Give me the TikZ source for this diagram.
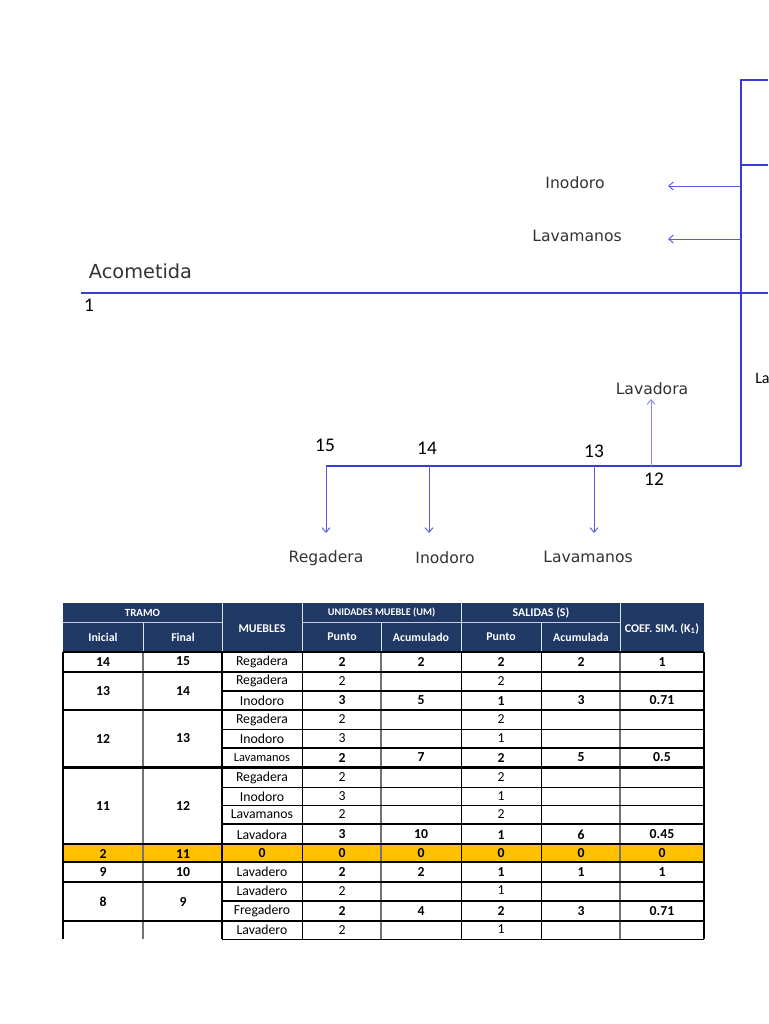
\documentclass[tikz,border=0pt]{standalone}
\usepackage{fontspec}
\usepackage{tikz}
\usetikzlibrary{arrows.meta}
\setmainfont{Carlito}
\newfontfamily\planofont{DejaVu Sans}
\definecolor{pipeblue}{HTML}{3A3ADC}
\definecolor{headnavy}{HTML}{1F3864}
\definecolor{rowgold}{HTML}{FFC000}
\tikzset{
    pipe/.style={draw=pipeblue, line width=1.1pt},
    branch/.style={draw=pipeblue!85, line width=0.7pt, ->},
    mueblelabel/.style={font=\planofont\fontsize{11.7}{14}\selectfont, text=black!80, inner sep=0pt},
    nodenum/.style={font=\fontsize{14.5}{17}\selectfont, inner sep=0pt},
    headcell/.style={font=\bfseries\fontsize{8.9}{10}\selectfont, text=white, inner sep=0pt},
    cell/.style={font=\fontsize{10.3}{12}\selectfont, inner sep=0pt, yshift=-0.4pt},
    boldcell/.style={font=\bfseries\fontsize{10.3}{12}\selectfont, inner sep=0pt, yshift=-0.4pt},
}
\begin{document}
\begin{tikzpicture}[x=0.75pt, y=-0.75pt, >={Straight Barb[length=3.5pt,width=6pt]}]
    \useasboundingbox (0,0) rectangle (768,1024);
    % network
    \coordinate (top) at (741,80);
    \coordinate (topend) at (768,80);
    \coordinate (mid) at (741,165);
    \coordinate (midend) at (768,165);
    \coordinate (start) at (81,293);
    \coordinate (mainend) at (768,293);
    \coordinate (corner) at (741,466);
    \coordinate (j15) at (326,466);
    \coordinate (j14) at (429,466);
    \coordinate (j13) at (594,466);
    \coordinate (j12) at (651,466);
    \coordinate (jino) at (741,186);
    \coordinate (jlav) at (741,239);
    \coordinate (endino) at (668,186);
    \coordinate (endlav) at (668,239);
    \coordinate (end15) at (326,533);
    \coordinate (end14) at (429,533);
    \coordinate (end13) at (594,533);
    \coordinate (end12) at (651,399);
    \draw[pipe] (start) -- (mainend);
    \draw[pipe, line width=0.85pt] (topend) -- (top) -- (corner);
    \draw[pipe] (corner) -- (j15);
    \draw[pipe, line width=0.85pt] (mid) -- (midend);
    \foreach \a/\b in {jino/endino, jlav/endlav, j15/end15, j14/end14, j13/end13}
        \draw[branch] (\a) -- (\b);
    \draw[branch, draw=pipeblue!60] (j12) -- (end12);
    \node[mueblelabel, font=\planofont\fontsize{14.5}{17}\selectfont] (acometida) at (140.5,271) {Acometida};
    \node[mueblelabel] (inodoroa) at (575,183) {Inodoro};
    \node[mueblelabel] (lavamanosa) at (577,236) {Lavamanos};
    \node[mueblelabel] (lavadora) at (652,389) {Lavadora};
    \node[mueblelabel] (regadera) at (326,558.5) {Regadera};
    \node[mueblelabel] (inodorob) at (445,558) {Inodoro};
    \node[mueblelabel] (lavamanosb) at (588,557) {Lavamanos};
    \node[nodenum, font=\fontsize{12}{14}\selectfont, anchor=west] (cortado) at (755,378) {La};
    \node[nodenum] (n1) at (89,305) {1};
    \node[nodenum] (n15) at (325,445) {15};
    \node[nodenum] (n14) at (427,448) {14};
    \node[nodenum] (n13) at (594,451) {13};
    \node[nodenum] (n12) at (654,479) {12};
    % table head
    \fill[headnavy] (63,603) rectangle (704,652);
    \fill[rowgold] (63,844) rectangle (704,862);
    \foreach \x/\ya/\yb in {143/622/652, 222/603/652, 302/603/652, 381/622/652, 461/603/652, 541/622/652, 620/603/652}
        \draw[white!85!headnavy, line width=0.6pt] (\x,\ya) -- (\x,\yb);
    \foreach \xa/\xb in {63/222, 302/620}
        \draw[white!75!headnavy, line width=0.7pt] (\xa,622) -- (\xb,622);
    \node[headcell, font=\bfseries\fontsize{8.2}{10}\selectfont] (htramo) at (142.5,612.5) {TRAMO};
    \node[headcell] (hinicial) at (103,637) {Inicial};
    \node[headcell] (hfinal) at (183,637) {Final};
    \node[headcell] (hmuebles) at (262,628.5) {MUEBLES};
    \node[headcell, font=\bfseries\fontsize{7.7}{9}\selectfont] (hum) at (381.5,612) {UNIDADES MUEBLE (UM)};
    \node[headcell] (hsalidas) at (541,612.5) {SALIDAS (S)};
    \node[headcell] (hpuntoa) at (342,637) {Punto};
    \node[headcell] (hacum) at (421,637) {Acumulado};
    \node[headcell] (hpuntob) at (501,637) {Punto};
    \node[headcell] (hacuma) at (581,637) {Acumulada};
    \node[headcell] (hcoef) at (662,628.5) {COEF. SIM. (K$_{\mathbf{1}}$)};
    % table grid
    \foreach \x/\w/\c in {63/1.3/black, 143/0.8/black!55, 222/1.1/black, 302/0.7/black, 381/0.8/black!55, 461/0.7/black, 541/0.7/black, 620/0.8/black!55, 704/1.1/black}
        \draw[\c, line width=\w pt] (\x,652) -- (\x,939);
    \foreach \y/\w in {652/1.3, 672/1.0, 710/1.0, 767.5/1.6, 844/1.3, 862/1.0, 882/1.0, 921/1.0}
        \draw[line width=\w pt] (63,\y) -- (704,\y);
    \foreach \y/\w in {691/1.5, 729/0.6, 748/1.2, 787/0.6, 805/0.6, 824/0.9, 901/1.0, 939/0.7}
        \draw[line width=\w pt] (222,\y) -- (704,\y);
    % table body
    \foreach \y/\ini/\fin in {661/14/15, 690.5/13/14, 738/12/13, 805/11/12, 871/9/10, 901/8/9}
    {
        \node[boldcell] (ini\fin) at (103,\y) {\ini};
        \node[boldcell] (fin\fin) at (183,\y) {\fin};
    }
    \foreach \y/\mue/\um/\sal in {680.5/Regadera/2/2, 719/Regadera/2/2, 738/Inodoro/3/1, 777/Regadera/2/2, 796/Inodoro/3/1, 814/Lavamanos/2/2, 890/Lavadero/2/1, 929/Lavadero/2/1}
    {
        \node[cell] (mue\y) at (262,\y) {\mue};
        \node[cell] (um\y) at (342,\y) {\um};
        \node[cell] (sal\y) at (501,\y) {\sal};
    }
    \foreach \y/\mue/\um/\acu/\sal/\acs/\coef in {661/Regadera/2/2/2/2/1, 700/Inodoro/3/5/1/3/0.71, 834/Lavadora/3/10/1/6/0.45, 871/Lavadero/2/2/1/1/1, 910/Fregadero/2/4/2/3/0.71, 757/{\fontsize{9.3}{11}\selectfont Lavamanos}/2/7/2/5/0.5}
    {
        \node[cell] (mue\y) at (262,\y) {\mue};
        \node[boldcell] (um\y) at (342,\y) {\um};
        \node[boldcell] (acu\y) at (421,\y) {\acu};
        \node[boldcell] (sal\y) at (501,\y) {\sal};
        \node[boldcell] (acs\y) at (581,\y) {\acs};
        \node[boldcell] (coef\y) at (662,\y) {\coef};
    }
    \node[boldcell] (ini11) at (103,853) {2};
    \node[boldcell] (fin11) at (183,853) {11};
    \foreach \x in {262,342,421,501,581,662}
        \node[boldcell] (cero\x) at (\x,853) {0};
\end{tikzpicture}
\end{document}
